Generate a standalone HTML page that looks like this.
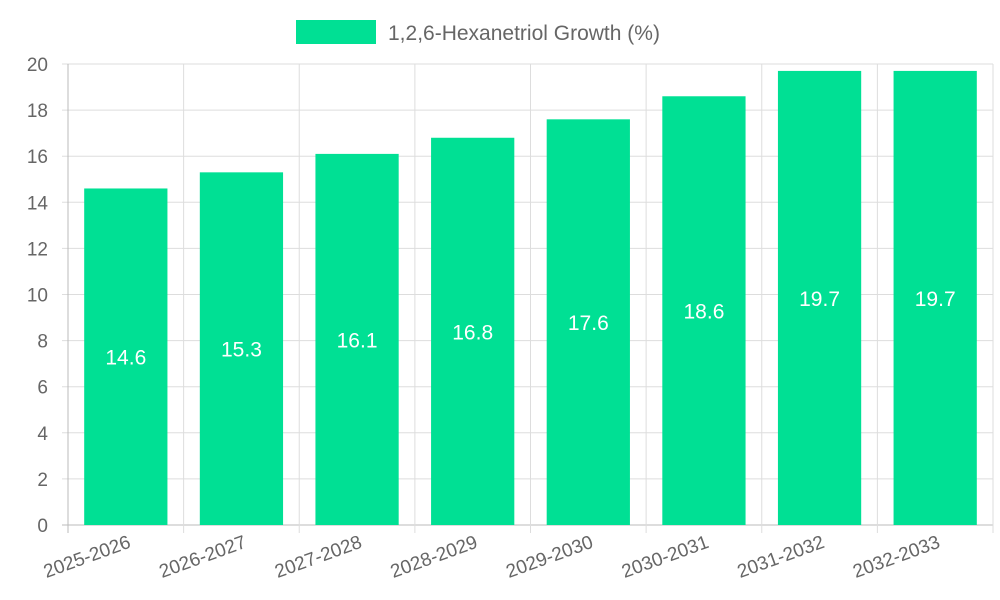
<!DOCTYPE html>
<html><head><meta charset="utf-8"><style>
body{margin:0;background:#fff;}
svg{display:block;font-family:"Liberation Sans",sans-serif;}
</style></head><body>
<svg id="chart" width="1000" height="600">
<g>
<rect x="296" y="20" width="80" height="24" fill="#00e094"></rect>
<text x="388" y="40" font-size="21" fill="#666">1,2,6-Hexanetriol Growth (%)</text>
</g>
<g id="grid"></g><g id="bars"></g><g id="labels"></g>
</svg>
<script>
const categories=["2025-2026","2026-2027","2027-2028","2028-2029","2029-2030","2030-2031","2031-2032","2032-2033"];
const values=[14.6,15.3,16.1,16.8,17.6,18.6,19.7,19.7];
const yTicks=[0,2,4,6,8,10,12,14,16,18,20];
const NS="http://www.w3.org/2000/svg";
const L=68,R=993,T=64,B=525,YMAX=20;
const cw=(R-L)/categories.length;
const y=v=>B-(v/YMAX)*(B-T);
const x=i=>L+cw*i;
function mk(tag,attrs,parent){const e=document.createElementNS(NS,tag);for(const k in attrs)e.setAttribute(k,attrs[k]);parent.appendChild(e);return e;}
const grid=document.getElementById('grid'),bars=document.getElementById('bars'),labels=document.getElementById('labels');
yTicks.forEach(t=>{
 const ln=mk('line',{x1:L-6,x2:R,y1:y(t),y2:y(t),stroke:t===0?'#bbb':'#ddd','stroke-width':1},grid);
 
 
 const tx=mk('text',{x:L-20,y:y(t)+7,'text-anchor':'end','font-size':19,fill:'#666'},grid);
 tx.textContent=t;
 
 
});
for(let i=0;i<=categories.length;i++){
 const ln=mk('line',{x1:x(i),x2:x(i),y1:T,y2:B+8,stroke:i===0?'#bbb':'#ddd','stroke-width':1},grid);
 
 
}
categories.forEach((c,i)=>{
 const bw=cw*0.72,bx=x(i)+(cw-bw)/2,v=values[i];
 const r=mk('rect',{x:bx,y:y(v),width:bw,height:B-y(v),fill:'#00e094'},bars);
 
 
 const vt=mk('text',{x:bx+bw/2,y:(y(v)+B)/2+8,'text-anchor':'middle','font-size':21,fill:'#fff'},labels);
 vt.textContent=v.toFixed(1);
 
 
 const cx=x(i)+cw/2+6,cy=B+22;
 const lt=mk('text',{x:cx,y:cy,'text-anchor':'end','font-size':19,fill:'#666',transform:`rotate(-20 ${cx} ${cy})`},labels);
 lt.textContent=c;
 
 
});
</script>
</body></html>
